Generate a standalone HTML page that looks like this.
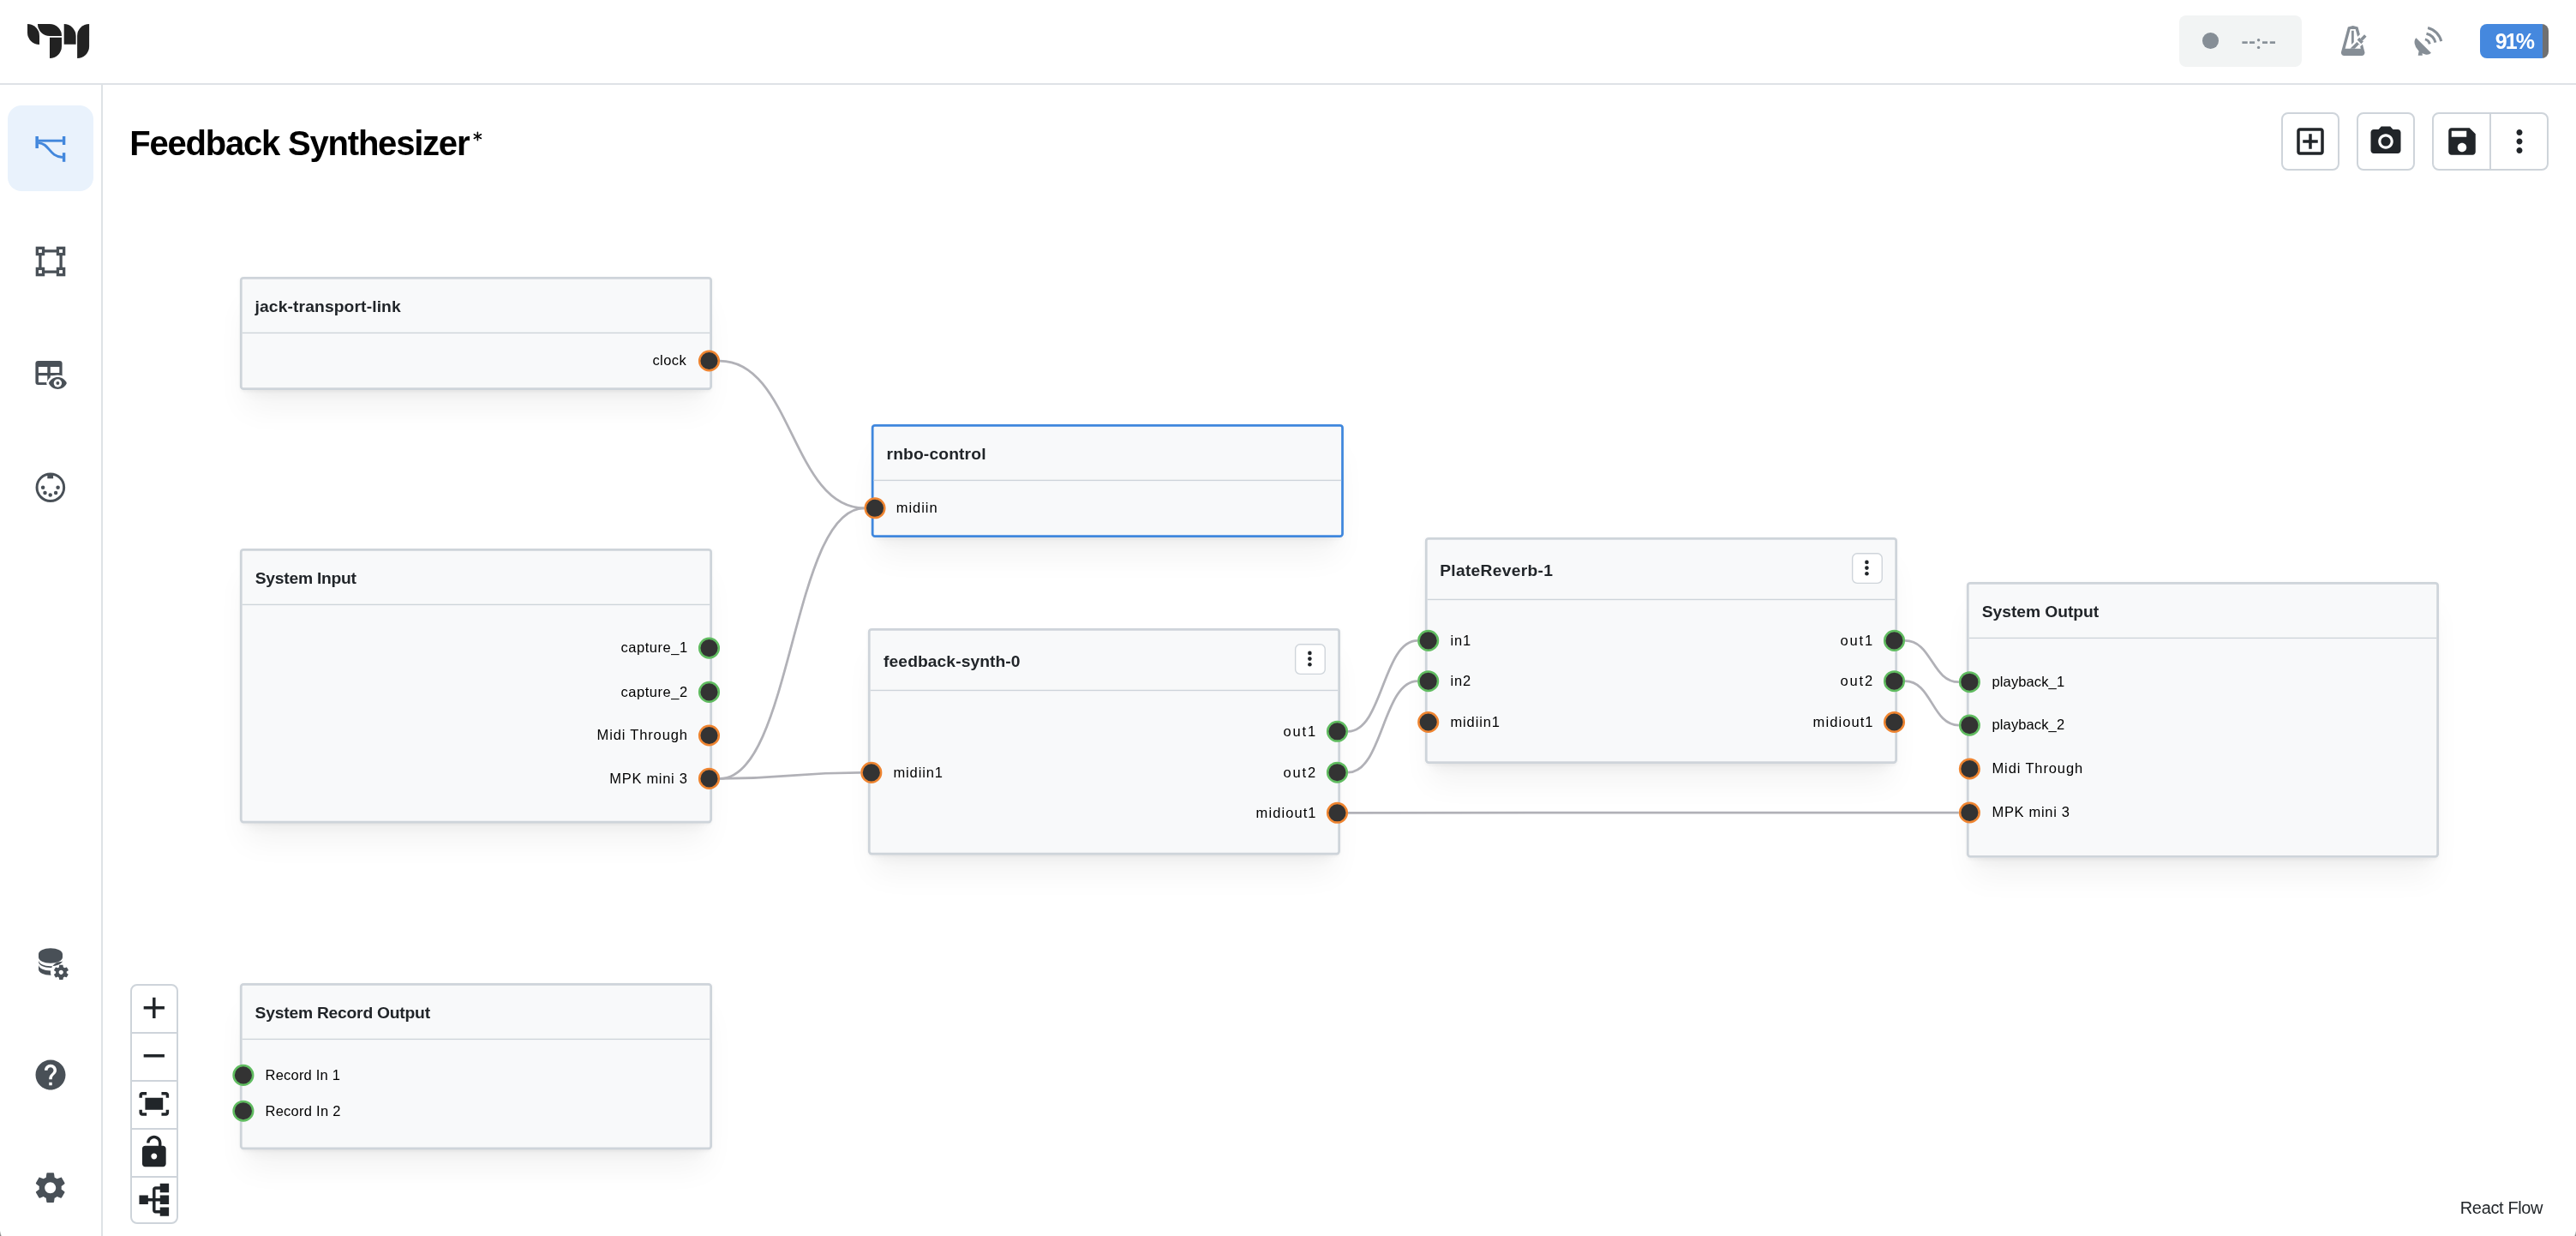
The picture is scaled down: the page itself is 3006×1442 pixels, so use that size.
<!DOCTYPE html>
<html><head><meta charset="utf-8"><title>Feedback Synthesizer</title>
<style>
*{box-sizing:border-box;margin:0;padding:0}
html,body{width:3006px;height:1442px;overflow:hidden;background:#fff}
body{font-family:"Liberation Sans",sans-serif;color:#000;position:relative}
.abs{position:absolute}
.t{position:absolute;white-space:nowrap;line-height:1}
#txt{position:absolute;left:0;top:0;width:3006px;height:1442px;will-change:transform;transform:translateZ(0)}
#hdr{position:absolute;left:0;top:0;width:3006px;height:97px;background:#fff}
#hdrline{position:absolute;left:0;top:97px;width:3006px;height:2px;background:#dee2e6}
#navline{position:absolute;left:118px;top:99px;width:2px;height:1343px;background:#dee2e6}
.navbtn{position:absolute;left:9px;width:100px;height:100px;border-radius:16px}
.navbtn svg{position:absolute;left:29px;top:29px;width:42px;height:42px}
.abtn{position:absolute;top:131px;width:68px;height:68px;border:2px solid #ced4da;background:#fff;border-radius:8px}
.abtn svg{position:absolute;left:11px;top:11px;width:42px;height:42px;fill:#212529}
.sh{position:absolute;border-radius:4px;box-shadow:0 1.4px 4.1px rgba(0,0,0,.05),0 27.5px 34.4px -6.9px rgba(0,0,0,.05),0 13.8px 13.8px -6.9px rgba(0,0,0,.04)}
#ctl{position:absolute;left:152px;top:1148px;width:56px;height:280px;border:2px solid #ced4da;border-radius:8px;background:#fff;overflow:hidden}
#ctl .sep{position:absolute;left:0;width:52px;height:2px;background:#ced4da}
#ctl svg{position:absolute;left:5.2px;width:41.6px;height:41.6px;fill:#212529}
</style></head><body><div id="txt">
<div id="hdr"></div><div id="hdrline"></div><div id="navline"></div>
<svg class="abs" style="left:32px;top:28px" width="73" height="40" viewBox="0 0 73 40"><g fill="#222">
<path d="M0 0A14 14 0 0 1 14 14V24A14 14 0 0 1 0 10Z"/>
<path d="M12 0H26A14 14 0 0 1 40 14H26A14 14 0 0 1 12 0Z"/>
<path d="M26 15.8H40V26A14 14 0 0 1 26 40Z"/>
<path d="M42.7 0A14 14 0 0 1 56.6 14V23.8H42.7Z"/>
<path d="M72.1 0V26A14 14 0 0 1 58.1 40V14A14 14 0 0 1 72.1 0Z"/>
</g></svg>
<div class="abs" style="left:2543px;top:18px;width:143px;height:60px;border-radius:8px;background:#f2f4f4"></div><div class="abs" style="left:2570.3px;top:38.2px;width:18.6px;height:18.6px;border-radius:50%;background:#868e96"></div><svg class="abs" style="left:2610px;top:40px" width="52" height="22" viewBox="2610 40 52 22"><g fill="#868e96"><rect x="2616.4" y="48.3" width="6.3" height="2.6"/><rect x="2625" y="48.3" width="6.1" height="2.6"/><rect x="2640" y="48.3" width="6" height="2.6"/><rect x="2648.8" y="48.3" width="6.2" height="2.6"/><circle cx="2635.6" cy="46.8" r="1.7"/><circle cx="2635.6" cy="55.4" r="1.7"/></g></svg><svg class="abs" style="left:2725.2px;top:27.1px;overflow:visible" width="41.4" height="41.4" viewBox="0 0 24 24">
<path fill="#868e96" fill-rule="evenodd" d="M12 1.75 15.38 2.65 19.95 19.5C20 19.7 20 19.85 20 20 20 21.1 19.1 22 18 22H6C4.9 22 4 21.1 4 20 4 19.85 4.02 19.7 4.06 19.5L8.62 2.65ZM10.25 4H13.75L17.3 17.3H6.7Z"/>
<path fill="#fff" d="M14.6 9.73 18.6 5.73 22.5 10.36 17.0 15.86Z"/>
<g fill="#868e96">
<path d="M11 5.1H12.63V12.93L11 14.56Z"/>
<path d="M10.100 17.300 13.200 17.300 16.250 14.250 14.700 12.700Z"/>
<path d="M14.850 11.250 16.350 9.750 19.100 12.500 17.600 14.000Z"/>
<path d="M17.050 10.450 19.750 7.750 21.200 9.200 18.500 11.900Z"/>
</g></svg><svg class="abs" style="left:2800px;top:20px" width="70" height="60" viewBox="2800 20 70 60"><g fill="none" stroke="#868e96" stroke-width="3.0"><path d="M2829.89 45.90A7.30 7.30 0 0 1 2835.30 51.31"/><path d="M2831.49 39.19A14.20 14.20 0 0 1 2842.01 49.71"/><path d="M2833.09 32.47A21.10 21.10 0 0 1 2848.73 48.11"/></g><g fill="#868e96"><path transform="translate(2828.2 53.0) rotate(45)" d="M-12.4 0A12.4 8.6 0 0 0 12.4 0Z"/><path d="M2821.7 64.7H2826.8L2826.5 61.0 2823.0 57.5Z"/></g></svg><div class="abs" style="left:2894px;top:28px;width:80px;height:40px;border-radius:8px;background:linear-gradient(90deg,#4588de 0,#4588de 73px,#707070 73px);overflow:hidden"></div><div class="t " style="left:2911.800px;top:35.938px;font-size:25.000px;letter-spacing:-1.9812px;color:#fff;font-weight:700;">91%</div><div class="navbtn" style="top:123px;background:#e9f2fc"><svg viewBox="0 0 42 42" style="overflow:visible"><g fill="#4287dc"><rect x="3.4" y="7" width="3.5" height="14"/><rect x="34.9" y="7" width="3.4" height="10"/><rect x="34.9" y="26.2" width="3.4" height="10.6"/></g><g fill="none" stroke="#4287dc" stroke-width="2.9"><path d="M6.9 12.2H34.9"/><path d="M6.9 14.6C20 15.5 19 30.5 34.9 31.5"/></g></svg></div>
<div class="navbtn" style="top:255px"><svg viewBox="0 0 42 42"><g fill="none" stroke="#495057" stroke-width="3.3"><rect x="5.35" y="5.35" width="7.2" height="7.2"/><rect x="29.45" y="5.35" width="7.2" height="7.2"/><rect x="5.35" y="29.45" width="7.2" height="7.2"/><rect x="29.45" y="29.45" width="7.2" height="7.2"/><path d="M12.5 8.9H29.5M12.5 33.1H29.5M8.9 12.5V29.5M33.1 12.5V29.5"/></g></svg></div>
<div class="navbtn" style="top:387px"><svg viewBox="0 0 42 42" style="overflow:visible"><rect x="3.4" y="5" width="31.2" height="27.9" rx="3.2" fill="#495057"/><g fill="#fff"><rect x="6.9" y="12" width="10.4" height="7"/><rect x="20.8" y="12" width="10.5" height="7"/><rect x="6.9" y="22.2" width="10.4" height="7.9"/><rect x="20.8" y="22.2" width="10.5" height="7.9"/></g><path d="M18.9 31.05C23 21.8 35.8 21.8 39.9 31.05 35.8 40.3 23 40.3 18.9 31.05Z" fill="#fff" stroke="#fff" stroke-width="5.4" stroke-linejoin="round"/><path d="M18.9 31.05C23 21.8 35.8 21.8 39.9 31.05 35.8 40.3 23 40.3 18.9 31.05Z" fill="#495057"/><circle cx="29.4" cy="31.05" r="4.7" fill="#fff"/><circle cx="29.4" cy="31.05" r="1.95" fill="#495057"/></svg></div>
<div class="navbtn" style="top:519px"><svg viewBox="0 0 42 42"><circle cx="20.850" cy="20.700" r="15.800" fill="none" stroke="#495057" stroke-width="3"/><g fill="#495057"><rect x="17.300" y="4.500" width="6.800" height="5.800"/><circle cx="12.100" cy="20.700" r="2.250"/><circle cx="29.600" cy="20.700" r="2.250"/><circle cx="14.500" cy="27" r="2.250"/><circle cx="27.100" cy="27" r="2.250"/><circle cx="20.700" cy="29.400" r="2.250"/></g></svg></div>
<div class="navbtn" style="top:1071.800px"><svg viewBox="0 0 24 24" style="overflow:visible"><path fill="#495057" d="M4 7V9C4 11.210 7.580 13 12 13C16.420 13 20 11.210 20 9V7C20 4.790 16.420 3 12 3C7.580 3 4 4.790 4 7M12.080 18L12 18C7.580 18 4 16.210 4 14V17C4 19.210 7.580 21 12 21C12.100 21 12.200 21 12.290 21C12.110 20.360 12 19.690 12 19C12 18.660 12.030 18.330 12.080 18M20 12.080C20 12.050 20 12.030 20 12V11C20 13.210 16.420 15 12 15C7.580 15 4 13.210 4 11V12C4 14.210 7.580 16 12 16C12.230 16 12.460 16 12.690 16C13.820 13.630 16.220 12 19 12C19.340 12 19.670 12.030 20 12.080M23.800 20.400C23.900 20.400 23.900 20.500 23.800 20.600L22.800 22.300C22.700 22.400 22.600 22.400 22.500 22.400L21.300 22C21 22.200 20.800 22.300 20.500 22.500L20.300 23.800C20.300 23.900 20.200 24 20.100 24H18.100C18 24 17.900 23.900 17.800 23.800L17.600 22.500C17.300 22.400 17 22.200 16.800 22L15.600 22.500C15.500 22.500 15.400 22.500 15.300 22.400L14.300 20.700C14.200 20.600 14.300 20.500 14.400 20.400L15.500 19.600V18.600L14.400 17.800C14.300 17.700 14.300 17.600 14.300 17.500L15.300 15.800C15.400 15.700 15.500 15.700 15.600 15.700L16.800 16.200C17.100 16 17.300 15.900 17.600 15.700L17.800 14.400C17.800 14.300 17.900 14.200 18.100 14.200H20.100C20.200 14.200 20.300 14.300 20.300 14.400L20.500 15.700C20.800 15.800 21.100 16 21.400 16.200L22.600 15.700C22.700 15.700 22.900 15.700 22.900 15.800L23.900 17.500C24 17.600 23.900 17.700 23.800 17.800L22.700 18.600V19.600L23.800 20.400M20.500 19C20.500 18.200 19.800 17.500 19 17.500S17.500 18.200 17.500 19 18.200 20.500 19 20.500 20.500 19.800 20.500 19Z"/></svg></div>
<div class="navbtn" style="top:1203.700px"><svg viewBox="0 0 24 24"><path fill="#495057" d="M12 2C6.480 2 2 6.480 2 12s4.480 10 10 10 10-4.480 10-10S17.520 2 12 2zm1 17h-2v-2h2v2zm2.070-7.750l-.9.920C13.450 12.900 13 13.500 13 15h-2v-.5c0-1.100.450-2.100 1.170-2.830l1.240-1.260c.370-.360.590-.860.590-1.410 0-1.100-.9-2-2-2s-2 .9-2 2H8c0-2.210 1.790-4 4-4s4 1.790 4 4c0 .880-.360 1.680-.930 2.250z"/></svg></div>
<div class="navbtn" style="top:1335.600px"><svg viewBox="0 0 24 24" style="left:28.3px;top:28.9px;width:43.4px;height:43.4px"><path fill="#495057" d="M19.140 12.940c.040-.3.060-.610.060-.940 0-.320-.020-.640-.070-.940l2.030-1.580c.180-.140.230-.410.120-.610l-1.920-3.320c-.120-.220-.370-.290-.590-.220l-2.390.960c-.5-.380-1.030-.7-1.620-.940l-.360-2.540c-.040-.240-.240-.410-.480-.410h-3.840c-.240 0-.430.170-.470.410l-.360 2.540c-.590.240-1.130.570-1.620.940l-2.390-.960c-.220-.080-.470 0-.590.220L2.740 8.870c-.120.210-.080.470.120.610l2.030 1.580c-.050.3-.090.630-.090.940s.020.640.070.940l-2.030 1.580c-.180.140-.230.410-.120.610l1.920 3.320c.120.220.370.290.590.220l2.390-.960c.5.380 1.030.7 1.620.940l.360 2.540c.050.240.240.410.480.410h3.840c.240 0 .440-.170.470-.410l.360-2.540c.590-.240 1.130-.560 1.620-.940l2.390.960c.220.080.470 0 .590-.220l1.920-3.320c.120-.220.070-.470-.120-.610l-2.010-1.580zM12 15.600c-1.980 0-3.600-1.620-3.600-3.600s1.620-3.600 3.600-3.600 3.600 1.620 3.600 3.600-1.620 3.600-3.600 3.600z"/></svg></div>
<div class="t " style="left:151.300px;top:147.140px;font-size:40.000px;letter-spacing:-1.2105px;color:#000;font-weight:700;">Feedback Synthesizer</div><svg class="abs" style="left:547px;top:149px;overflow:visible" width="20" height="20"><g transform="translate(10.35 10.1)" stroke="#000" stroke-width="1.6" stroke-linecap="round" fill="none"><path d="M0 0L0.00 -4.70"/><path d="M0 0L4.07 -2.35"/><path d="M0 0L4.07 2.35"/><path d="M0 0L0.00 4.70"/><path d="M0 0L-4.07 2.35"/><path d="M0 0L-4.07 -2.35"/></g></svg><div class="abtn" style="left:2662px"><svg viewBox="0 0 24 24"><path d="M19 3H5c-1.110 0-2 .9-2 2v14c0 1.100.890 2 2 2h14c1.100 0 2-.9 2-2V5c0-1.100-.9-2-2-2zm0 16H5V5h14v14zm-8-2h2v-4h4v-2h-4V7h-2v4H7v2h4z"/></svg></div><div class="abtn" style="left:2750px"><svg viewBox="0 0 24 24"><circle cx="12" cy="12" r="3.200"/><path d="M9 2L7.170 4H4c-1.100 0-2 .9-2 2v12c0 1.100.9 2 2 2h16c1.100 0 2-.9 2-2V6c0-1.100-.9-2-2-2h-3.170L15 2H9zm3 15c-2.760 0-5-2.240-5-5s2.240-5 5-5 5 2.240 5 5-2.240 5-5 5z"/></svg></div><div class="abtn" style="left:2838px;width:69px;border-radius:8px 0 0 8px"><svg viewBox="0 0 24 24" style="left:12px"><path d="M17 3H5c-1.110 0-2 .9-2 2v14c0 1.100.890 2 2 2h14c1.100 0 2-.9 2-2V7l-4-4zm-5 16c-1.660 0-3-1.340-3-3s1.340-3 3-3 3 1.340 3 3-1.340 3-3 3zm3-10H5V5h10v4z"/></svg></div><div class="abtn" style="left:2905px;width:69px;border-radius:0 8px 8px 0"><svg viewBox="0 0 24 24" style="left:12px"><path d="M12 8c1.100 0 2-.9 2-2s-.9-2-2-2-2 .9-2 2 .9 2 2 2zm0 2c-1.100 0-2 .9-2 2s.9 2 2 2 2-.9 2-2-.9-2-2-2zm0 6c-1.100 0-2 .9-2 2s.9 2 2 2 2-.9 2-2-.9-2-2-2z"/></svg></div>
<div id="shadows"><div class="sh" style="left:279.90px;top:322.90px;width:551.10px;height:132.20px"></div><div class="sh" style="left:279.90px;top:639.90px;width:551.10px;height:320.50px"></div><div class="sh" style="left:279.90px;top:1146.90px;width:551.10px;height:194.40px"></div><div class="sh" style="left:1016.80px;top:494.90px;width:551.10px;height:132.20px"></div><div class="sh" style="left:1012.90px;top:732.90px;width:551.10px;height:264.50px"></div><div class="sh" style="left:1662.90px;top:626.90px;width:551.10px;height:264.00px"></div><div class="sh" style="left:2294.90px;top:678.90px;width:551.10px;height:321.90px"></div></div>
<svg class="abs" style="left:0;top:0" width="3006" height="1442" viewBox="0 0 3006 1442"><g fill="none" stroke="#b1b1b7" stroke-width="2.75"><path d="M840.05 421.00C924.25 421.00 924.25 592.80 1008.45 592.80"/><path d="M840.05 908.40C924.25 908.40 924.25 592.80 1008.45 592.80"/><path d="M840.05 908.40C922.15 908.40 922.15 901.40 1004.25 901.40"/><path d="M1573.05 853.30C1613.60 853.30 1613.60 747.40 1654.15 747.40"/><path d="M1573.05 901.20C1613.60 901.20 1613.60 794.70 1654.15 794.70"/><path d="M1573.05 948.30C1929.42 948.30 1929.42 948.00 2285.80 948.00"/><path d="M2223.05 747.40C2254.43 747.40 2254.43 795.70 2285.80 795.70"/><path d="M2223.05 794.70C2254.43 794.70 2254.43 846.10 2285.80 846.10"/></g>
<rect x="281.27" y="324.27" width="548.35" height="129.45" rx="2.8" fill="#f8f9fa" stroke="#ced4da" stroke-width="2.75"/><rect x="282.65" y="387.71" width="545.60" height="1.38" fill="#ced4da"/><circle cx="827.50" cy="421.00" r="11.30" fill="#333" stroke="#ee8430" stroke-width="2.50"/>
<rect x="281.27" y="641.27" width="548.35" height="317.75" rx="2.8" fill="#f8f9fa" stroke="#ced4da" stroke-width="2.75"/><rect x="282.65" y="704.71" width="545.60" height="1.38" fill="#ced4da"/><circle cx="827.50" cy="756.10" r="11.30" fill="#333" stroke="#60bc60" stroke-width="2.50"/><circle cx="827.50" cy="807.40" r="11.30" fill="#333" stroke="#60bc60" stroke-width="2.50"/><circle cx="827.50" cy="858.00" r="11.30" fill="#333" stroke="#ee8430" stroke-width="2.50"/><circle cx="827.50" cy="908.40" r="11.30" fill="#333" stroke="#ee8430" stroke-width="2.50"/>
<rect x="281.27" y="1148.28" width="548.35" height="191.65" rx="2.8" fill="#f8f9fa" stroke="#ced4da" stroke-width="2.75"/><rect x="282.65" y="1211.71" width="545.60" height="1.38" fill="#ced4da"/><circle cx="283.90" cy="1254.40" r="11.30" fill="#333" stroke="#60bc60" stroke-width="2.50"/><circle cx="283.90" cy="1296.20" r="11.30" fill="#333" stroke="#60bc60" stroke-width="2.50"/>
<rect x="1018.17" y="496.27" width="548.35" height="129.45" rx="2.8" fill="#f8f9fa" stroke="#3f87dd" stroke-width="2.75"/><rect x="1019.55" y="559.71" width="545.60" height="1.38" fill="#ced4da"/><circle cx="1021.00" cy="592.80" r="11.30" fill="#333" stroke="#ee8430" stroke-width="2.50"/>
<rect x="1014.27" y="734.27" width="548.35" height="261.75" rx="2.8" fill="#f8f9fa" stroke="#ced4da" stroke-width="2.75"/><rect x="1015.65" y="804.76" width="545.60" height="1.38" fill="#ced4da"/><rect x="1511.64" y="751.79" width="34.6" height="34.6" rx="5.5" fill="#fff" stroke="#ced4da" stroke-width="1.38"/><circle cx="1528.40" cy="761.90" r="2.3" fill="#212529"/><circle cx="1528.40" cy="768.60" r="2.3" fill="#212529"/><circle cx="1528.40" cy="775.30" r="2.3" fill="#212529"/><circle cx="1016.80" cy="901.40" r="11.30" fill="#333" stroke="#ee8430" stroke-width="2.50"/><circle cx="1560.50" cy="853.30" r="11.30" fill="#333" stroke="#60bc60" stroke-width="2.50"/><circle cx="1560.50" cy="901.20" r="11.30" fill="#333" stroke="#60bc60" stroke-width="2.50"/><circle cx="1560.50" cy="948.30" r="11.30" fill="#333" stroke="#ee8430" stroke-width="2.50"/>
<rect x="1664.28" y="628.27" width="548.35" height="261.25" rx="2.8" fill="#f8f9fa" stroke="#ced4da" stroke-width="2.75"/><rect x="1665.65" y="698.76" width="545.60" height="1.38" fill="#ced4da"/><rect x="2161.64" y="645.79" width="34.6" height="34.6" rx="5.5" fill="#fff" stroke="#ced4da" stroke-width="1.38"/><circle cx="2178.40" cy="655.90" r="2.3" fill="#212529"/><circle cx="2178.40" cy="662.60" r="2.3" fill="#212529"/><circle cx="2178.40" cy="669.30" r="2.3" fill="#212529"/><circle cx="1666.70" cy="747.40" r="11.30" fill="#333" stroke="#60bc60" stroke-width="2.50"/><circle cx="1666.70" cy="794.70" r="11.30" fill="#333" stroke="#60bc60" stroke-width="2.50"/><circle cx="1666.70" cy="842.50" r="11.30" fill="#333" stroke="#ee8430" stroke-width="2.50"/><circle cx="2210.50" cy="747.40" r="11.30" fill="#333" stroke="#60bc60" stroke-width="2.50"/><circle cx="2210.50" cy="794.70" r="11.30" fill="#333" stroke="#60bc60" stroke-width="2.50"/><circle cx="2210.50" cy="842.50" r="11.30" fill="#333" stroke="#ee8430" stroke-width="2.50"/>
<rect x="2296.28" y="680.27" width="548.35" height="319.15" rx="2.8" fill="#f8f9fa" stroke="#ced4da" stroke-width="2.75"/><rect x="2297.65" y="743.71" width="545.60" height="1.38" fill="#ced4da"/><circle cx="2298.35" cy="795.70" r="11.30" fill="#333" stroke="#60bc60" stroke-width="2.50"/><circle cx="2298.35" cy="846.10" r="11.30" fill="#333" stroke="#60bc60" stroke-width="2.50"/><circle cx="2298.35" cy="897.00" r="11.30" fill="#333" stroke="#ee8430" stroke-width="2.50"/><circle cx="2298.35" cy="948.00" r="11.30" fill="#333" stroke="#ee8430" stroke-width="2.50"/>
</svg>
<div class="t " style="left:297.587px;top:347.588px;font-size:19.270px;letter-spacing:0.1131px;color:#212529;font-weight:700;">jack-transport-link</div>
<div class="t " style="left:761.400px;top:412.319px;font-size:16.517px;letter-spacing:0.4354px;color:#000;">clock</div>
<div class="t " style="left:297.750px;top:664.588px;font-size:19.270px;letter-spacing:-0.2512px;color:#212529;font-weight:700;">System Input</div>
<div class="t " style="left:724.600px;top:747.419px;font-size:16.517px;letter-spacing:0.5177px;color:#000;">capture_1</div>
<div class="t " style="left:724.600px;top:798.719px;font-size:16.517px;letter-spacing:0.5177px;color:#000;">capture_2</div>
<div class="t " style="left:696.550px;top:849.319px;font-size:16.517px;letter-spacing:0.8467px;color:#000;">Midi Through</div>
<div class="t " style="left:711.350px;top:899.719px;font-size:16.517px;letter-spacing:0.6842px;color:#000;">MPK mini 3</div>
<div class="t " style="left:297.600px;top:1171.588px;font-size:19.270px;letter-spacing:-0.2256px;color:#212529;font-weight:700;">System Record Output</div>
<div class="t " style="left:309.500px;top:1245.719px;font-size:16.517px;letter-spacing:0.2208px;color:#000;">Record In 1</div>
<div class="t " style="left:309.500px;top:1287.519px;font-size:16.517px;letter-spacing:0.2608px;color:#000;">Record In 2</div>
<div class="t " style="left:1034.500px;top:519.588px;font-size:19.270px;letter-spacing:0.1355px;color:#212529;font-weight:700;">rnbo-control</div>
<div class="t " style="left:1045.700px;top:584.119px;font-size:16.517px;letter-spacing:0.9700px;color:#000;">midiin</div>
<div class="t " style="left:1031.100px;top:761.788px;font-size:19.270px;letter-spacing:0.0672px;color:#212529;font-weight:700;">feedback-synth-0</div>
<div class="t " style="left:1042.500px;top:892.719px;font-size:16.517px;letter-spacing:0.8472px;color:#000;">midiin1</div>
<div class="t " style="left:1497.400px;top:844.619px;font-size:16.517px;letter-spacing:1.8778px;color:#000;">out1</div>
<div class="t " style="left:1497.400px;top:892.519px;font-size:16.517px;letter-spacing:1.8778px;color:#000;">out2</div>
<div class="t " style="left:1465.600px;top:939.619px;font-size:16.517px;letter-spacing:1.0809px;color:#000;">midiout1</div>
<div class="t " style="left:1680.200px;top:655.788px;font-size:19.270px;letter-spacing:0.2726px;color:#212529;font-weight:700;">PlateReverb-1</div>
<div class="t " style="left:1692.500px;top:738.719px;font-size:16.517px;letter-spacing:0.8250px;color:#000;">in1</div>
<div class="t " style="left:1692.500px;top:786.019px;font-size:16.517px;letter-spacing:0.8250px;color:#000;">in2</div>
<div class="t " style="left:1692.500px;top:833.819px;font-size:16.517px;letter-spacing:0.8472px;color:#000;">midiin1</div>
<div class="t " style="left:2147.400px;top:738.719px;font-size:16.517px;letter-spacing:1.8778px;color:#000;">out1</div>
<div class="t " style="left:2147.400px;top:786.019px;font-size:16.517px;letter-spacing:1.8778px;color:#000;">out2</div>
<div class="t " style="left:2115.600px;top:833.819px;font-size:16.517px;letter-spacing:1.0809px;color:#000;">midiout1</div>
<div class="t " style="left:2312.800px;top:703.588px;font-size:19.270px;letter-spacing:-0.0546px;color:#212529;font-weight:700;">System Output</div>
<div class="t " style="left:2324.500px;top:787.019px;font-size:16.517px;letter-spacing:0.1250px;color:#000;">playback_1</div>
<div class="t " style="left:2324.500px;top:837.419px;font-size:16.517px;letter-spacing:0.1250px;color:#000;">playback_2</div>
<div class="t " style="left:2324.500px;top:888.319px;font-size:16.517px;letter-spacing:0.8740px;color:#000;">Midi Through</div>
<div class="t " style="left:2324.500px;top:939.319px;font-size:16.517px;letter-spacing:0.6842px;color:#000;">MPK mini 3</div>
<div id="ctl"><div class="sep" style="top:53.9px"></div><div class="sep" style="top:109.8px"></div><div class="sep" style="top:165.7px"></div><div class="sep" style="top:221.6px"></div><svg viewBox="0 0 24 24" style="top:5.1px"><path d="M19 13h-6v6h-2v-6H5v-2h6V5h2v6h6v2z"/></svg><svg viewBox="0 0 24 24" style="top:61.0px"><path d="M19 13H5v-2h14v2z"/></svg><svg viewBox="0 0 24 24" style="top:117.0px"><path d="M17 4h3c1.100 0 2 .9 2 2v2h-2V6h-3V4zM4 8V6h3V4H4c-1.100 0-2 .9-2 2v2h2zm16 8v2h-3v2h3c1.100 0 2-.9 2-2v-2h-2zM7 18H4v-2H2v2c0 1.100.9 2 2 2h3v-2zM18 8H6v8h12V8z"/></svg><svg viewBox="0 0 24 24" style="top:172.8px"><path d="M18 8h-1V6c0-2.760-2.240-5-5-5S7 3.240 7 6h2c0-1.660 1.340-3 3-3s3 1.340 3 3v2H6c-1.100 0-2 .9-2 2v10c0 1.100.9 2 2 2h12c1.100 0 2-.9 2-2V10c0-1.100-.9-2-2-2zm-6 9c-1.100 0-2-.9-2-2s.9-2 2-2 2 .9 2 2-.9 2-2 2z"/></svg><svg viewBox="0 0 24 24" style="top:228.7px"><path transform="rotate(-90 12 12)" d="M9,2V8H11V11H5C3.890,11 3,11.890 3,13V16H1V22H7V16H5V13H11V16H9V22H15V16H13V13H19V16H17V22H23V16H21V13C21,11.890 20.110,11 19,11H13V8H15V2H9Z"/></svg></div>
<div class="t " style="left:2870.800px;top:1399.170px;font-size:20.000px;letter-spacing:-0.3667px;color:#212529;">React Flow</div><div class="abs" style="right:0;bottom:0;width:2px;height:7px;background:linear-gradient(to bottom right,rgba(0,0,0,0) 45%,rgba(50,50,50,.85) 100%)"></div><div class="abs" style="left:0;bottom:0;width:2px;height:7px;background:linear-gradient(to bottom left,rgba(0,0,0,0) 45%,rgba(50,50,50,.85) 100%)"></div>
</div></body></html>
